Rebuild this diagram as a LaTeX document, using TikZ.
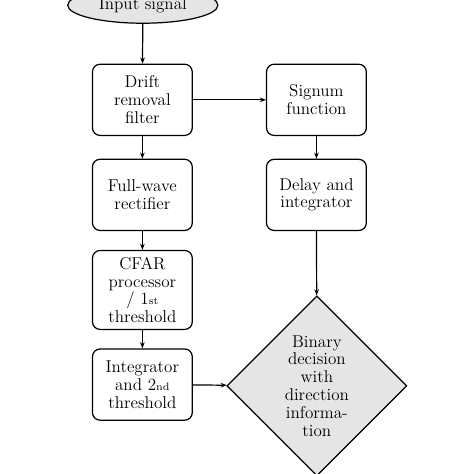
\documentclass[tikz,border=0pt]{standalone}
\usepackage{tikz}
\usetikzlibrary{arrows.meta,positioning,shapes}

\begin{document}
\begin{tikzpicture}[
    font=\fontsize{11.2}{11.7}\selectfont,
    block/.style={draw,thick,rounded corners=5pt,text width=2cm,align=center,minimum height=1.64cm,inner sep=0.15cm},
    startnode/.style={draw,thick,ellipse,fill=gray!20,minimum width=3.46cm,minimum height=0.83cm,inner sep=0pt},
    decision/.style={draw,thick,diamond,fill=gray!20,minimum width=4.15cm,minimum height=4.15cm,align=center,inner sep=0pt},
    flow/.style={thick,-{Stealth[length=4pt,width=3pt]}}
  ]
  \useasboundingbox (0,0) rectangle (10.92,-10.92);
  % left column
  \node[startnode] (input) at (3.29,-0.12) {Input signal};
  \node[block] (drift) at (3.28,-2.30) {Drift\\removal\\filter};
  \node[block] (rect) at (3.28,-4.49) {Full-wave\\rectifier};
  \node[block] (cfar) at (3.28,-6.68) {CFAR\\processor\\/ 1{\scriptsize st}\\threshold};
  \node[block] (integ) at (3.28,-8.86) {Integrator\\and 2{\scriptsize nd}\\threshold};
  % right column
  \node[block] (signum) at (7.29,-2.30) {Signum\\function};
  \node[block] (delay) at (7.29,-4.49) {Delay and\\integrator};
  \node[decision] (binary) at (7.30,-8.89) {Binary\\decision\\with\\direction\\informa-\\tion};
  % connections
  \draw[flow] (input) -- (drift);
  \draw[flow] (drift) -- (rect);
  \draw[flow] (rect) -- (cfar);
  \draw[flow] (cfar) -- (integ);
  \draw[flow] (drift) -- (signum);
  \draw[flow] (signum) -- (delay);
  \draw[flow] (delay) -- (binary);
  \draw[flow] (integ) -- (binary);
\end{tikzpicture}
\end{document}
